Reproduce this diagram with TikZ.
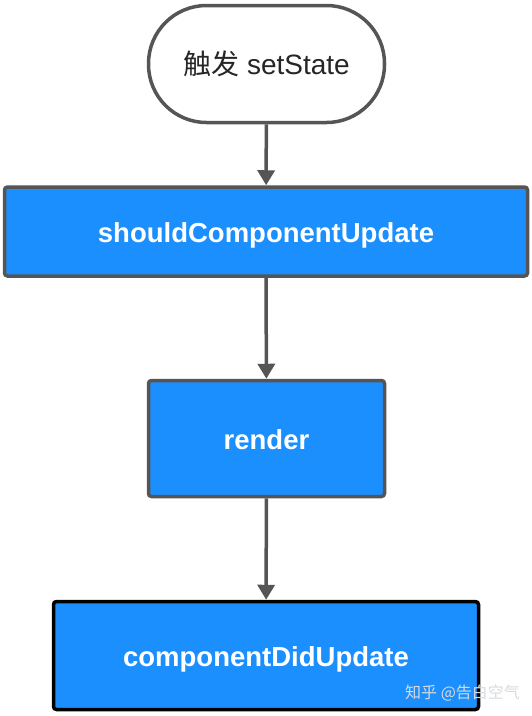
\documentclass[tikz,border=0pt]{standalone}
\usepackage{fontspec}
\setmainfont{Liberation Sans}
\newfontfamily\cjk{Noto Sans CJK SC}
\usetikzlibrary{arrows.meta}
\definecolor{stepblue}{RGB}{28,143,255}
\definecolor{edgegray}{RGB}{85,85,85}
\definecolor{markgray}{RGB}{215,218,222}
\begin{document}
\begin{tikzpicture}[x=1pt, y=-1pt,
    startbox/.style={draw=edgegray, line width=3.5pt, fill=white, rounded corners=58pt,
        inner sep=0pt, font=\fontsize{28}{32}\selectfont, text=black!85},
    stepbox/.style={draw=edgegray, line width=3.5pt, fill=stepblue, rounded corners=3pt,
        inner sep=0pt, text height=21pt, text depth=0pt,
        font=\fontsize{27.5}{32}\selectfont\bfseries, text=white},
    flow/.style={draw=edgegray, line width=3.5pt, -{Triangle[width=17pt, length=15pt]}}]
    \useasboundingbox (0,0) rectangle (532,716);

    % Nodes
    \node[startbox, minimum width=236pt, minimum height=117pt] (trigger) at (266.5,64) {{\cjk 触发} setState};
    \node[stepbox, minimum width=523pt, minimum height=89pt] (should) at (266,231.5) {shouldComponentUpdate};
    \node[stepbox, minimum width=236pt, minimum height=116pt] (render) at (266.5,438.5) {render};
    \node[stepbox, draw=black, minimum width=425pt, minimum height=108pt] (didupdate) at (266,655.5) {componentDidUpdate};

    % Arrows
    \draw[flow] (trigger) -- (should);
    \draw[flow] (should) -- (render);
    \draw[flow] (render) -- (didupdate);

    % Watermark
    \node[text=markgray, font=\cjk\fontsize{16}{18}\selectfont, anchor=west, inner sep=0pt] (mark) at (405,693) {知乎 @告白空气};
\end{tikzpicture}
\end{document}
